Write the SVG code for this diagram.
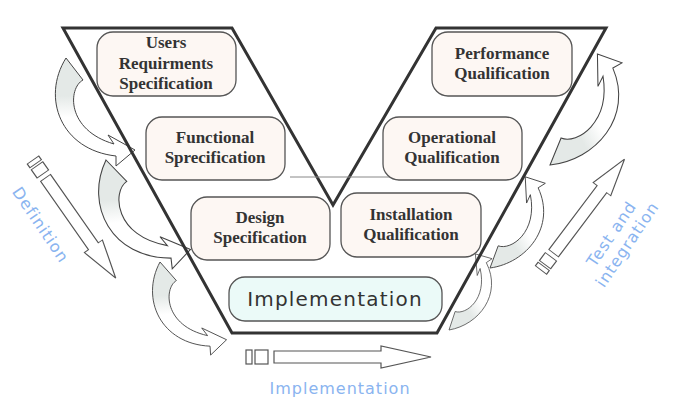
<svg xmlns="http://www.w3.org/2000/svg" xmlns:xlink="http://www.w3.org/1999/xlink" width="676" height="415" viewBox="0 0 676 415">
<style>
.box{fill:#fdf7f3;stroke:#555;stroke-width:1.3}
.bt{font-family:"Liberation Serif",serif;font-weight:bold;font-size:17px;fill:#333;text-anchor:middle}
.lbl{font-family:"DejaVu Sans",sans-serif;font-size:16px;fill:#8ab4f0;text-anchor:middle;letter-spacing:1px}
.carr{fill:url(#g);stroke:#444;stroke-width:1}
.sarr{fill:#fff;stroke:#555;stroke-width:1.2}
</style>
<defs>
<linearGradient id="g" x1="0" y1="0" x2="0" y2="1"><stop offset="0.35" stop-color="#e4e9e7"/><stop offset="0.55" stop-color="#fff"/></linearGradient>
<path id="carrow" d="M0,0 L17,22 C2,30 0,72 48,86 L42,77 L69,92 L50,108 L50,98 C-5,92 -25,40 0,0 Z"/>
<path id="carrowR" d="M0,0 L17,22 C4,32 6,70 48,86 L42,77 L69,92 L50,108 L50,98 C0,92 -18,40 0,0 Z"/>
<g id="sarrow"><rect x="0" y="-7" width="6" height="14"/><rect x="9" y="-7" width="13" height="14"/><path d="M28,-6 L135,-6 L135,-11 L185,0 L135,11 L135,6 L28,6 Z"/></g>
</defs>
<g id="connectors">
<use href="#carrow" class="carr" transform="translate(66,58)"/>
<use href="#carrow" class="carr" transform="translate(106,160) rotate(-6.5) scale(1.07)"/>
<use href="#carrow" class="carr" transform="translate(160,262) rotate(-3.7) scale(0.89)"/>
<use href="#carrowR" class="carr" transform="translate(449,330) rotate(-124) scale(0.7)"/>
<use href="#carrowR" class="carr" transform="translate(490,268) rotate(-122) scale(0.85)"/>
<use href="#carrowR" class="carr" transform="translate(550,165) rotate(-120) scale(1.05)"/>
<use href="#sarrow" class="sarr" transform="translate(246,357)"/>
<use href="#sarrow" class="sarr" transform="translate(33,160) rotate(55) scale(0.78,1)"/>
<use href="#sarrow" class="sarr" transform="translate(541,270) rotate(-53) scale(0.75,1)"/>
</g>
<g id="frame" fill="none" stroke="#333" stroke-width="3" stroke-linejoin="miter">
<path d="M63,28 L232,28 L333,205 L436,28 L606,28 L437,333 L232,333 Z"/>
<line x1="290" y1="177" x2="490" y2="177" stroke="#888" stroke-width="1"/>
</g>
<g id="urs"><rect class="box" x="97" y="32" width="139" height="64" rx="16"/>
<text class="bt" x="166" y="48">Users</text><text class="bt" x="166" y="69">Requirments</text><text class="bt" x="166" y="89">Specification</text></g>
<g id="fs"><rect class="box" x="146" y="117" width="139" height="63" rx="16"/>
<text class="bt" x="215" y="143">Functional</text><text class="bt" x="215" y="163">Sprecification</text></g>
<g id="ds"><rect class="box" x="191" y="197" width="139" height="63" rx="16"/>
<text class="bt" x="260" y="223">Design</text><text class="bt" x="260" y="243">Specification</text></g>
<g id="impl"><rect x="229" y="277" width="213" height="44" rx="16" fill="#ebfaf8" stroke="#555" stroke-width="1.3"/>
<text x="335" y="306" font-family="DejaVu Sans,sans-serif" font-size="20" fill="#333" text-anchor="middle" letter-spacing="1.2">Implementation</text></g>
<g id="pq"><rect class="box" x="432" y="32" width="140" height="64" rx="16"/>
<text class="bt" x="502" y="59">Performance</text><text class="bt" x="502" y="79">Qualification</text></g>
<g id="oq"><rect class="box" x="383" y="117" width="139" height="63" rx="16"/>
<text class="bt" x="452" y="143">Operational</text><text class="bt" x="452" y="163">Qualification</text></g>
<g id="iq"><rect class="box" x="341" y="193" width="140" height="64" rx="16"/>
<text class="bt" x="411" y="220">Installation</text><text class="bt" x="411" y="240">Qualification</text></g>
<g id="labels">
<text class="lbl" transform="translate(36,228) rotate(56)">Definition</text>
<text class="lbl" x="340" y="394" font-size="17">Implementation</text>
<text class="lbl" transform="translate(616,237) rotate(-56)"><tspan x="0" y="0">Test and</tspan><tspan x="0" y="19">integration</tspan></text>
</g>
</svg>
